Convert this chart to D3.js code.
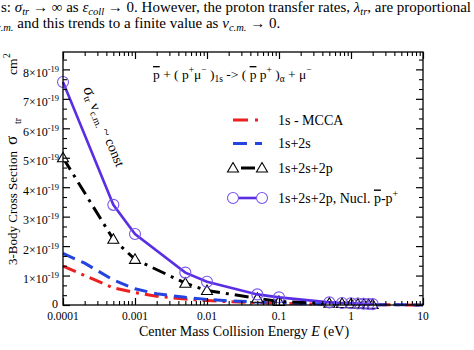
<!DOCTYPE html>
<html>
<head>
<meta charset="utf-8">
<script src="https://cdn.jsdelivr.net/npm/d3@7"></script>
<style>
  body { margin: 0; background: #fff; }
  svg { display: block; font-family: "Liberation Serif", "Times New Roman", serif; }
</style>
</head>
<body>
<svg id="chart"></svg>
<script>
// collision energies (eV) and cross sections (units of 1e-19 cm^2)
let denseEnergy = [0.0001, 0.0002, 0.0005, 0.001, 0.002, 0.005, 0.01, 0.02, 0.05, 0.1, 0.2, 0.5, 1, 2, 5, 10]
let mccaSigma = [1.32, 1.0, 0.58, 0.42, 0.30, 0.20, 0.15, 0.11, 0.08, 0.06, 0.04, 0.025, 0.015, 0.008, 0.004, 0.002]
let twoSSigma = [1.75, 1.42, 0.85, 0.55, 0.38, 0.26, 0.19, 0.14, 0.10, 0.08, 0.05, 0.03, 0.02, 0.01, 0.005, 0.003]

let markEnergy = [0.0001, 0.0005, 0.001, 0.005, 0.01, 0.05, 0.1, 0.5, 0.75, 1, 1.25, 1.5, 1.75, 2]
let twoPSigma = [5.0, 2.23, 1.55, 0.74, 0.49, 0.23, 0.12, 0.06, 0.05, 0.04, 0.035, 0.03, 0.025, 0.02]
let nuclSigma = [7.57, 3.40, 2.41, 1.10, 0.79, 0.36, 0.26, 0.09, 0.07, 0.06, 0.05, 0.04, 0.035, 0.03]

let xTicks = [0.0001, 0.001, 0.01, 0.1, 1, 10]
let xTickLabels = ["0.0001", "0.001", "0.01", "0.1", "1", "10"]
let yTicks = [0, 1, 2, 3, 4, 5, 6, 7, 8]
let legendLabels = ["1s - MCCA", "1s+2s", "1s+2s+2p", "1s+2s+2p, Nucl. "]

function getConfig() {
  let width = 474
  let height = 350
  let margin = { top: 52, bottom: 45, left: 63, right: 51 }
  let bodyWidth = width - margin.left - margin.right
  let bodyHeight = height - margin.top - margin.bottom
  let container = d3.select("#chart").attr("width", width).attr("height", height)
  return { width, height, margin, bodyWidth, bodyHeight, container }
}

function getScales(config) {
  let { margin, bodyWidth, bodyHeight } = config
  let xScale = d3.scaleLog()
    .domain([0.0001, 10])
    .range([margin.left, margin.left + bodyWidth])
  let yScale = d3.scaleLinear()
    .domain([0, 8.59])
    .range([margin.top + bodyHeight, margin.top])
  return { xScale, yScale }
}

// write text with sub/superscripts, italics and overlines
function richText(sel, parts, size) {
  let shift = 0
  parts.forEach(p => {
    let str = p[0], kind = p[1] || ""
    let target = 0
    if (kind.includes("sup")) target = -0.42 * size
    if (kind.includes("sub")) target = 0.22 * size
    let t = sel.append("tspan").text(str)
    if (target - shift !== 0) t.attr("dy", target - shift)
    shift = target
    if (kind.includes("sup") || kind.includes("sub")) t.attr("font-size", size * 0.7)
    if (kind.includes("big")) t.attr("font-size", size * 1.2)
    if (kind.includes("i")) t.style("font-style", "italic")
    if (kind.includes("ov")) t.style("text-decoration", "overline")
  })
}

function drawCaption(config) {
  let { container } = config
  let l1 = container.append("text").attr("x", 1).attr("y", 12).attr("font-size", 15)
  richText(l1, [["s: "], ["σ", "i"], ["tr", "sub i"], [" → ∞ as "], ["ε", "i"], ["coll", "sub i"],
    [" → 0. However, the proton transfer rates, "], ["λ", "i"], ["tr", "sub i"], [", are proportional to"]], 15)
  let l2 = container.append("text").attr("x", -4).attr("y", 28).attr("font-size", 15)
  richText(l2, [["c.m.", "sub i"], [" and this trends to a finite value as "], ["v", "i"], ["c.m.", "sub i"], [" → 0."]], 15)
}

function drawAxes(scales, config) {
  let { margin, bodyWidth, bodyHeight, container } = config
  let { xScale, yScale } = scales
  let bottom = margin.top + bodyHeight
  let right = margin.left + bodyWidth

  let xMinor = []
  for (let e = -4; e < 1; e++) for (let k = 2; k < 10; k++) xMinor.push(k * Math.pow(10, e))
  let yMinor = d3.range(0, 26).map(i => i / 3).filter((v, i) => i % 3 !== 0 && v < 8.59)

  let axes = [
    [d3.axisBottom(xScale), `translate(0,${bottom})`, xTicks, xMinor],
    [d3.axisTop(xScale), `translate(0,${margin.top})`, xTicks, xMinor],
    [d3.axisLeft(yScale), `translate(${margin.left},0)`, yTicks, yMinor],
    [d3.axisRight(yScale), `translate(${right},0)`, yTicks, yMinor]
  ]
  axes.forEach(a => {
    container.append("g").attr("transform", a[1])
      .call(a[0].tickValues(a[2]).tickSizeInner(-7).tickSizeOuter(0).tickFormat(""))
      .call(g => g.select(".domain").remove())
      .selectAll("line").attr("stroke-width", 1.2)
    container.append("g").attr("transform", a[1])
      .call(a[0].tickValues(a[3]).tickSizeInner(-4).tickSizeOuter(0).tickFormat(""))
      .call(g => g.select(".domain").remove())
      .selectAll("line").attr("stroke-width", 1.1)
  })

  container.append("rect")
    .attr("x", margin.left).attr("y", margin.top)
    .attr("width", bodyWidth).attr("height", bodyHeight)
    .attr("fill", "none").attr("stroke", "#000").attr("stroke-width", 1.3)

  // x tick labels
  container.append("g").selectAll("text")
    .data(xTicks)
    .join("text")
    .attr("x", d => xScale(d))
    .attr("y", bottom + 14.5)
    .attr("text-anchor", "middle")
    .attr("font-size", 11.5)
    .text((d, i) => xTickLabels[i])

  // y tick labels, 0 then n x 10^-19
  yTicks.forEach(v => {
    let t = container.append("text")
      .attr("x", margin.left - 4)
      .attr("y", yScale(v) + (v === 0 ? 3 : 7.5))
      .attr("text-anchor", "end")
      .attr("font-size", 12)
    if (v === 0) t.attr("x", margin.left - 5).text("0")
    else richText(t, [[v + "×10"], ["-19", "sup"]], 12)
  })

  let xt = container.append("text")
    .attr("x", (margin.left + right) / 2 + 1)
    .attr("y", 336)
    .attr("text-anchor", "middle")
    .attr("font-size", 14)
  richText(xt, [["Center Mass Collision Energy "], ["E", "i"], [" (eV)"]], 14)

  // y title, pieces placed along the rotated baseline (local x = 265 - screen y)
  let yTitle = container.append("g").attr("transform", "translate(17,265) rotate(-90)")
  let pieces = [
    ["3-Body Cross Section", 0, 0, 13],
    ["σ", 120, 0, 17],
    ["tr", 141, 3.5, 10],
    ["cm", 190, 0, 13.5],
    ["2", 207, -7, 9.5]
  ]
  pieces.forEach(p => yTitle.append("text")
    .attr("x", p[1]).attr("y", p[2]).attr("font-size", p[3]).text(p[0]))
}

function trianglePath(cx, cy) {
  return `M${cx},${cy - 5.5}L${cx + 5.5},${cy + 4}L${cx - 5.5},${cy + 4}Z`
}

function drawSeries(scales, config) {
  let { container } = config
  let { xScale, yScale } = scales
  let line = d3.line().x(d => xScale(d[0])).y(d => yScale(d[1]))

  let mcca = denseEnergy.map((e, i) => [e, mccaSigma[i]])
  let twoS = denseEnergy.map((e, i) => [e, twoSSigma[i]])
  let twoP = markEnergy.map((e, i) => [e, twoPSigma[i]])
  let nucl = markEnergy.map((e, i) => [e, nuclSigma[i]])

  container.append("path").datum(mcca).attr("d", line)
    .attr("fill", "none").attr("stroke", "#ec2020").attr("stroke-width", 3)
    .attr("stroke-dasharray", "14,6,3,6")
  container.append("path").datum(twoS).attr("d", line)
    .attr("fill", "none").attr("stroke", "#2443df").attr("stroke-width", 3)
    .attr("stroke-dasharray", "13,7")
  container.append("path").datum(twoP).attr("d", line)
    .attr("fill", "none").attr("stroke", "#000").attr("stroke-width", 3)
    .attr("stroke-dasharray", "14,6,3,6")
  container.append("g").selectAll("path")
    .data(twoP)
    .join("path")
    .attr("d", d => trianglePath(xScale(d[0]), yScale(d[1])))
    .attr("fill", "#fff").attr("stroke", "#000").attr("stroke-width", 1.1)

  container.append("path").datum(nucl).attr("d", line)
    .attr("fill", "none").attr("stroke", "#5a2ee3").attr("stroke-width", 2.6)
  container.append("g").selectAll("circle")
    .data(nucl)
    .join("circle")
    .attr("cx", d => xScale(d[0]))
    .attr("cy", d => yScale(d[1]))
    .attr("r", 5.5)
    .attr("fill", "none").attr("stroke", "#7a55ee").attr("stroke-width", 1.1)
}

function drawLegend(config) {
  let { container } = config
  let x0 = 233, x1 = 262, tx = 278
  let rows = [120, 143.5, 168, 198]

  container.append("line").attr("x1", x0).attr("x2", x1).attr("y1", rows[0]).attr("y2", rows[0])
    .attr("stroke", "#ec2020").attr("stroke-width", 3).attr("stroke-dasharray", "15,7,3,6")
  container.append("line").attr("x1", x0).attr("x2", x1).attr("y1", rows[1]).attr("y2", rows[1])
    .attr("stroke", "#2443df").attr("stroke-width", 3).attr("stroke-dasharray", "14,8")
  container.append("line").attr("x1", x0).attr("x2", x1).attr("y1", rows[2]).attr("y2", rows[2])
    .attr("stroke", "#000").attr("stroke-width", 3).attr("stroke-dasharray", "0,8,14,20")
  ;[x0, x1].forEach(x => container.append("path").attr("d", trianglePath(x, rows[2]))
    .attr("fill", "#fff").attr("stroke", "#000").attr("stroke-width", 1.1))
  container.append("line").attr("x1", x0).attr("x2", x1).attr("y1", rows[3]).attr("y2", rows[3])
    .attr("stroke", "#5a2ee3").attr("stroke-width", 2.6)
  ;[x0, x1].forEach(x => container.append("circle").attr("cx", x).attr("cy", rows[3]).attr("r", 5.5)
    .attr("fill", "#fff").attr("stroke", "#7a55ee").attr("stroke-width", 1.1))

  legendLabels.forEach((s, i) => {
    let t = container.append("text").attr("x", tx).attr("y", rows[i] + 4.5).attr("font-size", 14)
    if (i < 3) t.text(s)
    else richText(t, [[s], ["p", "ov"], ["-p"], ["+", "sup"]], 14)
  })

  // reaction
  let r = container.append("text").attr("x", 153).attr("y", 79).attr("font-size", 13.5)
  richText(r, [["p", "ov"], [" + ( p"], ["+", "sup"], ["μ"], ["−", "sup"], [" )"], ["1s", "sub"],
    [" -> ( "], ["p", "ov"], [" p"], ["+", "sup"], [" )"], ["α", "sub"], [" + μ"], ["−", "sup"]], 13.5)

  // slope note
  let n = container.append("text").attr("transform", "translate(83,89) rotate(67)").attr("font-size", 14)
  richText(n, [["σ", "big"], ["tr", "sub"], [" v"], ["c.m.", "sub"], ["  ~ const"]], 14)
}

function showChart() {
  let config = getConfig()
  let scales = getScales(config)
  drawCaption(config)
  drawSeries(scales, config)
  drawAxes(scales, config)
  drawLegend(config)
}

showChart()
</script>
</body>
</html>
